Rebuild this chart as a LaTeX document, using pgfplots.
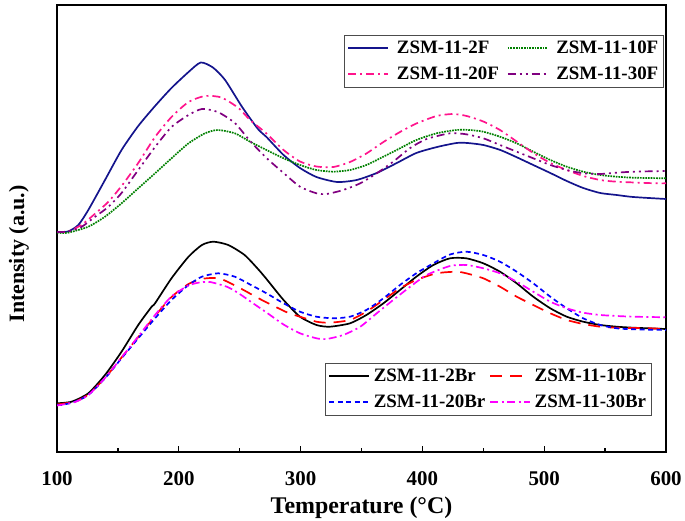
\documentclass[border=0pt]{standalone}
\usepackage{pgfplots}
\pgfplotsset{compat=1.18}
\usepackage{fontspec}
\setmainfont{Liberation Serif}

\definecolor{cNavy}{RGB}{20,20,140}
\definecolor{cGreen}{RGB}{0,128,0}
\definecolor{cPink}{RGB}{255,20,140}
\definecolor{cPurple}{RGB}{128,0,128}
\definecolor{cRed}{RGB}{255,0,0}
\definecolor{cBlue}{RGB}{0,0,255}
\definecolor{cMag}{RGB}{255,0,255}

\pgfplotsset{
  base/.style={
    scale only axis, width=609bp, height=447bp,
    xmin=100, xmax=600, ymin=0, ymax=447,
    legend cell align=left,
    legend style={draw=black!70, line width=0.6pt,
      font=\fontsize{19}{21}\selectfont\bfseries,
      inner xsep=3pt, inner ysep=1pt, row sep=1.5pt,
      nodes={inner ysep=5pt}},
    legend columns=2,
  },
  curve/.style={line width=1.7pt, smooth, tension=0.4, no markers},
  % legend sample drawn with the full line style of its curve
  limg/.style={legend image code/.code={%
    \draw[line width=1.7pt, #1] (0cm,0cm) -- (1.4cm,0cm);}},
}

\begin{document}
\begin{tikzpicture}
% Fluoride-template samples and frame
\begin{axis}[base,
  axis line style={line width=1.3pt},
  xtick={100,200,...,600},
  minor xtick={150,250,...,550},
  tick style={line width=1.3pt, black},
  major tick length=6pt, minor tick length=4.5pt,
  tick align=inside, xtick pos=bottom,
  ytick=\empty,
  /pgf/number format/assume math mode=true,
  xticklabel style={font=\fontsize{21}{23}\selectfont\bfseries, anchor=base, yshift=-33bp},
  xlabel={Temperature (\textdegree C)},
  xlabel style={font=\fontsize{24}{26}\selectfont\bfseries,
    at={(axis description cs:0.5,0)}, anchor=base, yshift=-61bp},
  ylabel={Intensity (a.u.)},
  ylabel style={font=\fontsize{22}{24}\selectfont\bfseries,
    at={(axis description cs:-0.0624,0.443)}, anchor=center},
  legend style={at={(axis cs:598,417)}, anchor=north east, column sep=6pt},
]
\addplot[curve, cNavy, limg={cNavy}] coordinates {
 (100,220) (109,220.5) (117.5,227) (125.7,242) (139.4,272) (153,302)
 (166.7,326) (180.5,346) (194,364) (208,380) (218,389.5) (228,384.5)
 (238,372) (252,345) (265,323) (272,315) (286,297) (299.5,284) (313,275)
 (330,270) (346,272) (362.5,279) (379,289) (395,299) (412,305) (428,309)
 (437,309) (450,307) (464,302) (477,295) (491,287) (505,279) (518.5,271)
 (532,264) (546,259) (559.5,257) (573,255) (600,253)};
\addlegendentry{ZSM-11-2F}
\addplot[curve, cGreen, densely dotted, limg={cGreen, densely dotted}] coordinates {
 (100,219.3) (109,219.3) (125.7,225.3) (139.4,235.3) (153,248.7)
 (166.7,263.7) (180.5,278.7) (194,293.7) (208,308.7) (221.5,318.7)
 (232,322) (246,318.7) (258.5,310.3) (272,302) (286,293.7) (299.5,287)
 (313,282) (327,280.3) (340.6,282) (354,287) (368,295.3) (381.6,303.7)
 (395,312) (411.7,318.7) (428,322) (439,322) (450,320.3) (463.7,315.3)
 (477.4,308.7) (491,300.3) (505,292) (518.5,285.3) (532,280.3) (546,277)
 (559.5,275.3) (573,274.3) (600,273.7)};
\addlegendentry{ZSM-11-10F\hspace{12pt}}
\addplot[curve, cPink, dash pattern=on 8pt off 4pt on 2pt off 4pt,
  limg={cPink, dash pattern=on 8pt off 4pt on 2pt off 4pt}] coordinates {
 (100,220) (109,220.5) (120,227) (131,238) (142,250) (153,266) (166.7,289)
 (180.5,315) (194,335) (208,350) (221.5,356) (235,354.5) (249,344)
 (258.5,332) (272,318.5) (286,302) (299.5,290.5) (313,285.5) (327,285)
 (340.6,290) (354,298.5) (368,310) (381.6,320) (395,328.5) (411.7,336)
 (425,338) (436.4,336) (450,330.5) (463.7,322) (477.4,310.5) (491,299)
 (505,289) (518.5,282) (532,276) (546,272) (559.5,270.3) (591,268.7)
 (600,268.7)};
\addlegendentry{ZSM-11-20F}
\addplot[curve, cPurple, dash pattern=on 8pt off 4pt on 2pt off 4pt on 2pt off 4pt,
  limg={cPurple, dash pattern=on 8pt off 4pt on 2pt off 4pt on 2pt off 4pt}] coordinates {
 (100,220) (109,220.5) (120,225) (131,235) (142,245) (153,259) (166.7,282)
 (180.5,305) (194,325) (208,337) (219,343) (232,340) (246,329)
 (258.5,311) (272,294) (286,279) (299.5,265.3) (313,258.7) (321.4,258)
 (335,262) (349,268.7) (362.5,278.7) (376,290.3) (390,304) (403.5,313)
 (422.7,318.7) (436,317.7) (450,313.7) (463.7,307) (477.4,300.3)
 (491,293.7) (505,287) (518.5,282) (532,278.7) (546,278) (559.5,279.3)
 (573,280.3) (600,281)};
\addlegendentry{ZSM-11-30F\hspace{12pt}}
\end{axis}

% Bromide-template samples
\begin{axis}[base, axis lines=none,
  legend style={at={(axis cs:588,89)}, anchor=north east, column sep=2pt},
]
\addplot[curve, black, limg={black}] coordinates {
 (100,48.7) (112,50.3) (125.7,58.7) (139.4,77) (153,100.3) (166.7,127)
 (177.7,145.3) (180.5,148.7) (194,173.7) (208,195.3) (219,207)
 (228.3,210.3) (240.6,207) (254,197) (265,183) (272,173) (286,152)
 (299.5,135.3) (313,127) (324,125.3) (340.6,128.7) (354,137) (368,148.7)
 (381.6,162) (395,175.3) (409,187) (422.7,193.7) (436,193.7) (450,188.7)
 (463.7,180.3) (477.4,168.7) (491,155.3) (505,143.7) (518.5,135.3)
 (532,130.3) (546,127) (559.5,125.3) (573,124.3) (600,123)};
\addlegendentry{ZSM-11-2Br}
\addplot[curve, cRed, dash pattern=on 12pt off 8pt,
  limg={cRed, dash pattern=on 12pt off 8pt}] coordinates {
 (100,47.5) (114.8,50.5) (125.7,57.5) (139.4,74) (153,94.5) (166.7,115)
 (180.5,136) (194,155) (208,168) (219,173) (227,174) (235,173)
 (251.6,163) (265,154) (278,146) (290,139) (299.5,135.3) (313,130.3)
 (324,129.3) (340.6,132) (354,140.3) (368,152) (381.6,163.7) (395,172)
 (411.7,178.7) (428,180.3) (436,178.7) (450,173.7) (463.7,165.3)
 (477.4,155.3) (491,147) (505,138.7) (518.5,132) (532,128) (546,125.3)
 (559.5,124.3) (587,123.7) (600,123)};
\addlegendentry{ZSM-11-10Br}
\addplot[curve, cBlue, dash pattern=on 5pt off 3.5pt,
  limg={cBlue, dash pattern=on 5pt off 3.5pt}] coordinates {
 (100,47) (104,47) (114.8,50.3) (125.7,57) (139.4,73.7) (153,93.7)
 (166.7,113.7) (180.5,133.7) (194,152) (208,167) (219,175.3)
 (232.4,178.7) (246,175.3) (258.5,167.5) (272,158.7) (286,148.7)
 (299.5,140.3) (313,135.3) (327,133.7) (340.6,135.3) (354,142)
 (368,153.7) (381.6,167) (395,178.7) (409,188.7) (422.7,197.5)
 (436,200.3) (450,197) (463.7,190.3) (477.4,180.3) (491,168.7)
 (505,155.3) (518.5,143.7) (532,133.7) (546,127) (559.5,123.7)
 (573,122.7) (600,122)};
\addlegendentry{ZSM-11-20Br}
\addplot[curve, cMag, dash pattern=on 8pt off 3.5pt on 2pt off 3.5pt,
  limg={cMag, dash pattern=on 8pt off 3.5pt on 2pt off 3.5pt}] coordinates {
 (100,46.5) (114.8,50) (125.7,57) (139.4,74) (153,94.5) (166.7,115.5)
 (180.5,137) (194,155.5) (208,166.5) (217,169.5) (225.6,170) (240,165)
 (250,158) (260,149.5) (272,139.5) (286,127.5) (299.5,118.7) (313,113.7)
 (321.4,113) (335,117) (349,125.3) (362.5,138.7) (376,152) (390,165.3)
 (403.5,177) (422.7,186) (436.4,187) (450,183.7) (463.7,178.7)
 (477.4,170.3) (491,160.3) (505,150.3) (518.5,143.7) (532,139.3)
 (546,137) (559.5,136) (573,135.3) (600,134.7)};
\addlegendentry{ZSM-11-30Br}
\end{axis}

\pgfresetboundingbox
\path ([shift={(-57bp,-69bp)}]current axis.south west) rectangle ([shift={(19bp,5bp)}]current axis.north east);
\end{tikzpicture}
\end{document}
